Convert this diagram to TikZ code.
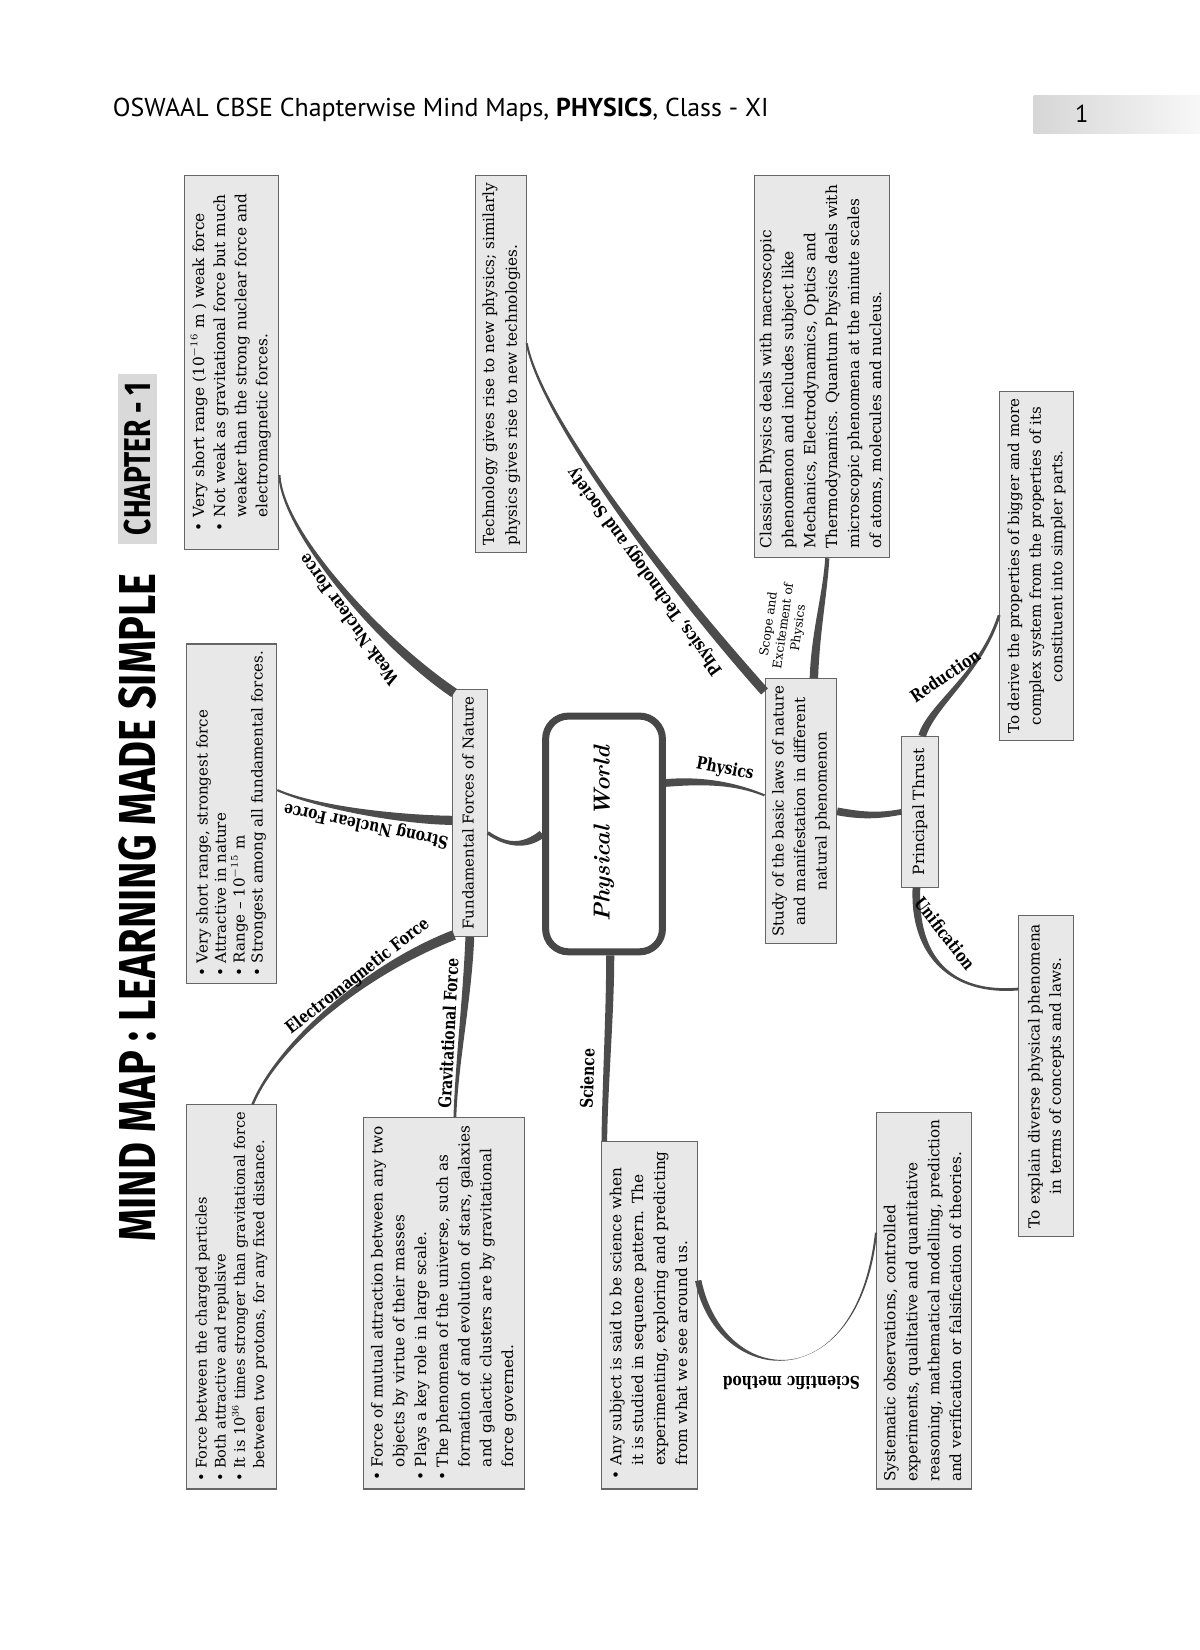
\documentclass[tikz,border=0pt]{standalone}
\usepackage{fontspec}
\usepackage{graphicx}
\usetikzlibrary{calc}
\newfontfamily\boxfont{DejaVu Serif}
\newfontfamily\labfont{DejaVu Serif}[FakeStretch=0.8]
\newfontfamily\headfont{PT Sans}
\newfontfamily\titlefont{Fira Sans}
\def\unitpx{0.021053cm}
\newcommand\bul{\textbullet\ }
\newcommand\ind{\hphantom{\textbullet\ }}
\newcommand\btab[4]{{\boxfont\fontsize{#1}{#2}\selectfont\begin{tabular}{@{}#3@{}}#4\end{tabular}}}
\newlength\rbmax
\newsavebox\rbsave
\newcommand\fitrot[1]{\sbox\rbsave{#1}\ifdim\wd\rbsave>\rbmax\resizebox{\rbmax}{!}{\usebox\rbsave}\else\usebox\rbsave\fi}
\newcommand\rbox[6]{%
  \pgfmathsetlength\rbmax{(#5-#3)*\unitpx-8pt}%
  \node[tbox, minimum width={(#4-#2)*\unitpx}, minimum height={(#5-#3)*\unitpx}] (#1) at ({(#2+#4)/2},{(#3+#5)/2}) {\rotatebox{90}{\fitrot{#6}}};}
\newcommand\taper[6]{%
  \fill[branch] ($#1!#5!90:#2$) .. controls ($#2!#5!-90:#1$) and ($#3!#6!90:#4$) .. ($#4!#6!-90:#3$) -- ($#4!#6!90:#3$) .. controls ($#3!#6!-90:#4$) and ($#2!#5!90:#1$) .. ($#1!#5!-90:#2$) -- cycle;}
\tikzset{
  tbox/.style={draw=black!60, fill=black!9, line width=0.6pt, inner sep=0pt},
  branch/.style={fill=black!70},
  blab/.style={font={\labfont\bfseries\fontsize{9.9}{10}\selectfont}, inner sep=0pt},
  slab/.style={font={\boxfont\fontsize{7}{8.5}\selectfont}, inner sep=0pt, align=center},
  wh/.style 2 args={minimum width={(#1)*\unitpx}, minimum height={(#2)*\unitpx}},
}
\begin{document}
\begin{tikzpicture}[x=0.021053cm, y=-0.021053cm]
\useasboundingbox (0,0) rectangle (1140,1568);
\fill[white] (0,0) rectangle (1140,1568);

% header
\node[anchor=base west, inner sep=0pt] (head) at (107,111) {\resizebox{13.12cm}{!}{\headfont OSWAAL CBSE Chapterwise Mind Maps, \textbf{PHYSICS}, Class - XI}};
\node[anchor=north west, inner sep=0pt, wh={158}{37}, left color=black!16, right color=black!3] (pbox) at (982,90) {};
\node[inner sep=0pt] (pnum) at (1028,108) {\headfont\fontsize{14}{14}\selectfont 1};

% title
\node[rotate=90, inner sep=0pt] (title) at (130.5,862.5) {\resizebox{13.37cm}{0.737cm}{\titlefont\bfseries MIND MAP : LEARNING MADE SIMPLE}};
\node[fill=black!15, wh={37}{162}, inner sep=0pt] (chap) at (130.5,436) {\rotatebox{90}{\resizebox{3.05cm}{0.53cm}{\titlefont\bfseries CHAPTER - 1}}};

% boxes
\rbox{weak}{175}{167}{265}{522}{\btab{8.7}{12}{l}{\bul Very short range (10$^{-16}$ m ) weak force\\ \bul Not weak as gravitational force but much\\ \ind weaker than the strong nuclear force and\\ \ind electromagnetic forces.}}
\rbox{strong}{177}{612}{263}{935}{\btab{8.7}{10.5}{l}{\bul Very short range, strongest force\\ \bul Attractive in nature\\ \bul Range – 10$^{-15}$ m\\ \bul Strongest among all fundamental forces.}}
\rbox{em}{177}{1050}{263}{1415}{\btab{8.7}{11.5}{l}{\bul Force between the charged particles\\ \bul Both attractive and repulsive\\ \bul It is 10$^{36}$ times stronger than gravitational force\\ \ind between two protons, for any fixed distance.}}
\rbox{grav}{345}{1062}{498}{1415}{\btab{8.7}{12.4}{l}{\bul Force of mutual attraction between any two\\ \ind objects by virtue of their masses\\ \bul Plays a key role in large scale.\\ \bul The phenomena of the universe, such as\\ \ind formation of and evolution of stars, galaxies\\ \ind and galactic clusters are by gravitational\\ \ind force governed.}}
\rbox{sci}{572}{1085}{663}{1415}{\btab{8.7}{12.5}{l}{\bul Any subject is said to be science when\\ \ind it is studied in sequence pattern. The\\ \ind experimenting, exploring and predicting\\ \ind from what we see around us.}}
\rbox{sm}{833}{1057}{923}{1415}{\btab{8.7}{12.5}{l}{Systematic observations, controlled\\ experiments, qualitative and quantitative\\ reasoning, mathematical modelling, prediction\\ and verification or falsification of theories.}}
\rbox{tech}{452}{167}{500}{525}{\btab{8.7}{13}{l}{Technology gives rise to new physics; similarly\\ physics gives rise to new technologies.}}
\rbox{cls}{717}{167}{845}{530}{\btab{8.7}{12.5}{l}{Classical Physics deals with macroscopic\\ phenomenon and includes subject like\\ Mechanics, Electrodynamics, Optics and\\ Thermodynamics. Quantum Physics deals with\\ microscopic phenomena at the minute scales\\ of atoms, molecules and nucleus.}}
\rbox{red}{950}{372}{1020}{704}{\btab{8.7}{12.5}{c}{To derive the properties of bigger and more\\ complex system from the properties of its\\ constituent into simpler parts.}}
\rbox{uni}{968}{870}{1020}{1175}{\btab{8.7}{12}{c}{To explain diverse physical phenomena\\ in terms of concepts and laws.}}
\rbox{study}{727}{645}{795}{897}{\btab{8.7}{12.5}{c}{Study of the basic laws of nature\\ and manifestation in different\\ natural phenomenon}}
\rbox{ffn}{430}{655}{463}{890}{\btab{8.8}{11}{c}{Fundamental Forces of Nature}}
\rbox{pt}{857}{700}{892}{843}{\btab{8.8}{11}{c}{Principal Thrust}}

% central node
\node[draw=black!72, line width=4pt, rounded corners=13pt, wh={111}{224}, inner sep=0pt] (pw) at (574,792.5) {\rotatebox{90}{\resizebox{3.52cm}{!}{\bfseries\itshape Physical World}}};

% branches
\coordinate (w0) at ($(ffn.north west)+(2,4)$);
\coordinate (w3) at ($(weak.south east)!0.2!(weak.north east)$);
\taper{(w0)}{(360,610)}{(268,505)}{(w3)}{2.8pt}{0.6pt}

\coordinate (s0) at ($(ffn.north west)!0.53!(ffn.south west)$);
\coordinate (s3) at ($(strong.north east)!0.43!(strong.south east)$);
\taper{(s0)}{(380,779)}{(300,767)}{(s3)}{2.6pt}{0.6pt}

\coordinate (e0) at ($(ffn.south west)+(2,-2)$);
\coordinate (e3) at ($(em.north west)!0.73!(em.north east)$);
\taper{(e0)}{(350,920)}{(265,990)}{(e3)}{2.8pt}{0.7pt}

\coordinate (g0) at ($(ffn.south west)!0.5!(ffn.south east)$);
\coordinate (g3) at ($(grav.north west)!0.57!(grav.north east)$);
\taper{(g0)}{(444,950)}{(434,1010)}{(g3)}{2.5pt}{0.8pt}

\coordinate (p0) at (pw.west);
\coordinate (p3) at ($(ffn.north east)!0.58!(ffn.south east)$);
\taper{(p0)}{(498,806)}{(480,803)}{(p3)}{2.2pt}{1pt}

\coordinate (ph0) at ($(pw.north east)!0.29!(pw.south east)$);
\coordinate (ph3) at ($(study.north west)!0.44!(study.south west)$);
\taper{(ph0)}{(670,741)}{(700,745)}{(ph3)}{2.2pt}{0.6pt}

\coordinate (sc0) at ($(pw.south west)!0.55!(pw.south east)$);
\coordinate (sc3) at ($(sci.north west)!0.03!(sci.north east)$);
\taper{(sc0)}{(580,960)}{(575,1030)}{(sc3)}{2.3pt}{1.6pt}

\coordinate (t0) at ($(study.north west)!0.05!(study.south west)$);
\coordinate (t3) at ($(tech.north east)!0.445!(tech.south east)$);
\taper{(t0)}{(640,560)}{(515,400)}{(t3)}{2.6pt}{0.6pt}

\coordinate (c0) at ($(study.north west)!0.68!(study.north east)$);
\coordinate (c3) at ($(cls.south west)!0.54!(cls.south east)$);
\taper{(c0)}{(775,600)}{(784,565)}{(c3)}{2.4pt}{1.2pt}

\coordinate (pt0) at ($(study.north east)!0.5!(study.south east)$);
\coordinate (pt3) at (pt.west);
\taper{(pt0)}{(822,776)}{(838,775)}{(pt3)}{2.2pt}{1.6pt}

\coordinate (r0) at ($(pt.north west)!0.55!(pt.north east)$);
\coordinate (r3) at ($(red.north west)!0.64!(red.south west)$);
\taper{(r0)}{(885,670)}{(932,640)}{(r3)}{2.2pt}{0.8pt}

\coordinate (u0) at ($(pt.south west)!0.4!(pt.south east)$);
\coordinate (u3) at ($(uni.north west)!0.23!(uni.south west)$);
\taper{(u0)}{(868,910)}{(905,945)}{(u3)}{2.2pt}{0.8pt}

\coordinate (m0) at ($(sci.north east)!0.4!(sci.south east)$);
\coordinate (m3) at ($(sm.north west)!0.32!(sm.south west)$);
\taper{(m0)}{(685,1320)}{(815,1330)}{(m3)}{1.8pt}{0.6pt}

% branch labels
\node[blab, rotate=126] (lweak) at (331,589) {Weak Nuclear Force};
\node[blab, rotate=168.5] (lstrong) at (348,784) {Strong Nuclear Force};
\node[blab, rotate=38] (lem) at (340,928) {Electromagnetic Force};
\node[blab, rotate=87] (lgrav) at (426,982) {Gravitational Force};
\node[blab, rotate=88] (lsci) at (558,1025) {Science};
\node[blab, rotate=180] (lsm) at (752,1314) {Scientific method};
\node[blab, rotate=-11] (lphy) at (689,731) {Physics};
\node[blab, rotate=126] (lpts) at (613,543) {Physics, Technology and Society};
\node[slab, rotate=82] (lscope) at (745,595) {Scope and\\ Excitement of\\ Physics};
\node[blab, rotate=34] (lred) at (898,642) {Reduction};
\node[blab, rotate=-52] (luni) at (898,887) {Unification};
\end{tikzpicture}
\end{document}
